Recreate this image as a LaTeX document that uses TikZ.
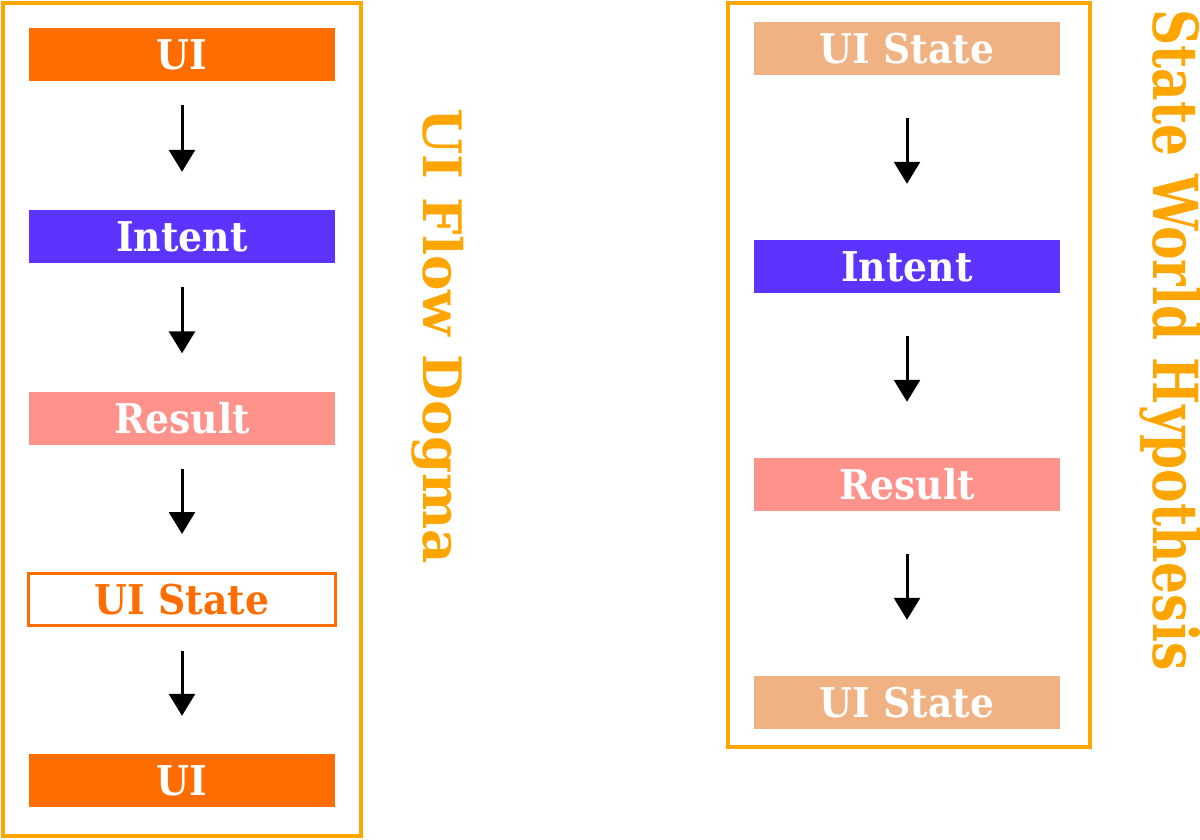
\documentclass[tikz,border=0pt]{standalone}
\usepackage{fontspec}
\setmainfont{DejaVu Serif}
\newfontfamily\boxfont{DejaVu Serif}[FakeStretch=0.92, BoldFeatures={FakeStretch=0.92}]
\newfontfamily\wideTitleFont{DejaVu Serif}[FakeStretch=1.0]
\newfontfamily\narrowTitleFont{DejaVu Serif}[FakeStretch=0.81, BoldFeatures={FakeStretch=0.81}]
\usetikzlibrary{arrows.meta}
\definecolor{frameor}{HTML}{FFA500}
\definecolor{uior}{HTML}{FF6D00}
\definecolor{intentc}{HTML}{5C33FF}
\definecolor{resultc}{HTML}{FF928A}
\definecolor{statec}{HTML}{F0B183}
\tikzset{
  box/.style={minimum width=306pt, minimum height=53pt, inner sep=0pt, text=white, font=\boxfont\fontsize{41}{43}\selectfont\bfseries},
  uibox/.style={box, fill=uior},
  intentbox/.style={box, fill=intentc},
  resultbox/.style={box, fill=resultc},
  statebox/.style={box, fill=statec},
  stateline/.style={box, draw=uior, line width=3pt, fill=white, text=uior, minimum width=307pt, minimum height=52pt},
  flow/.style={line width=3pt, -{Triangle[width=26pt,length=22pt]}},
  panel/.style={draw=frameor, line width=4pt},
  title/.style={text=frameor, rotate=-90, anchor=base, inner sep=0pt}
}
\begin{document}
\begin{tikzpicture}[x=1pt,y=-1pt]
\useasboundingbox (0,0) rectangle (1200,840);
\fill[white] (0,0) rectangle (1200,840);
% left panel
\draw[panel] (3,3) rectangle (361,836);
\node[uibox] (l1) at (182,54.5) {UI};
\node[intentbox] (l2) at (182,236.5) {Intent};
\node[resultbox] (l3) at (182,418) {Result};
\node[stateline] (l4) at (182,599.5) {UI State};
\node[uibox] (l5) at (182,780.5) {UI};
\foreach \a/\b in {l1/l2,l2/l3,l3/l4,l4/l5}
  \draw[flow, shorten <=24pt, shorten >=38pt] (\a.south) -- (\b.north);
\node[title, font=\wideTitleFont\fontsize{53}{55}\selectfont\bfseries] (t1) at (423,336) {UI Flow Dogma};
% right panel
\draw[panel] (728,3) rectangle (1090,747);
\node[statebox] (r1) at (907,48.5) {UI State};
\node[intentbox] (r2) at (907,266.5) {Intent};
\node[resultbox] (r3) at (907,484.5) {Result};
\node[statebox] (r4) at (907,702.5) {UI State};
\foreach \a/\b in {r1/r2,r2/r3,r3/r4}
  \draw[flow, shorten <=43pt, shorten >=56pt] (\a.south) -- (\b.north);
\node[title, font=\narrowTitleFont\fontsize{62}{64}\selectfont\bfseries] (t2) at (1153,340) {State World Hypothesis};
\end{tikzpicture}
\end{document}
